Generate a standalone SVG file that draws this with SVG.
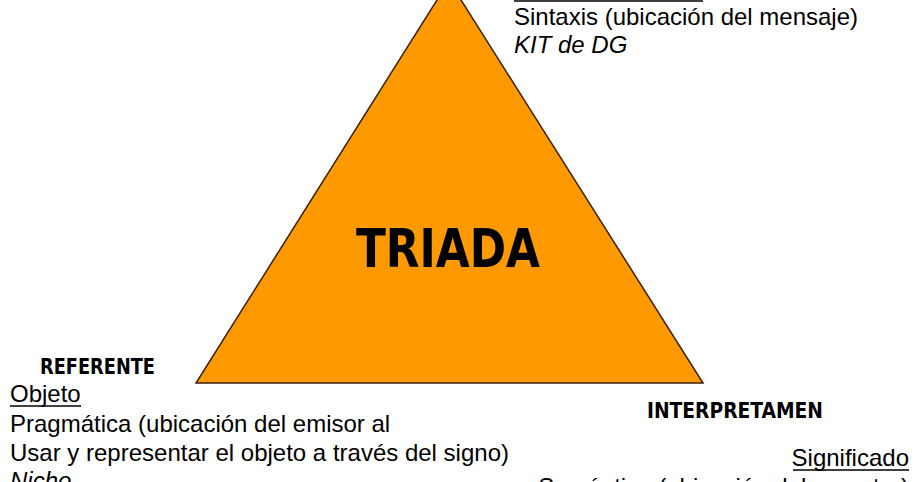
<svg xmlns="http://www.w3.org/2000/svg" width="919" height="482" viewBox="0 0 919 482">
  <style>
    .body { font-family: "Liberation Sans", Arial, sans-serif; font-size: 24px; fill: #000; }
    .it { font-style: italic; }
    .head { font-family: "DejaVu Sans Condensed", "DejaVu Sans", sans-serif; font-stretch: condensed; font-weight: bold; fill: #000; }
    .ul { stroke: #000; stroke-width: 1.5; }
  </style>
  <rect width="919" height="482" fill="#fff"/>
  <g id="triada">
    <polygon points="449,-19 196,383 703,383" fill="#ff9900" stroke="#3a2000" stroke-width="1.5" stroke-linejoin="miter"/>
    <text class="head" x="356" y="267" font-size="54" textLength="184" lengthAdjust="spacingAndGlyphs">TRIADA</text>
  </g>
  <g id="signo">
    <line class="ul" x1="514" y1="1" x2="703" y2="1"/>
    <text class="body" x="514" y="25" textLength="344" lengthAdjust="spacingAndGlyphs">Sintaxis (ubicación del mensaje)</text>
    <text class="body it" x="514" y="53">KIT de DG</text>
  </g>
  <g id="referente">
    <text class="head" x="40" y="374" font-size="22" textLength="115" lengthAdjust="spacingAndGlyphs">REFERENTE</text>
    <text class="body" x="10" y="402">Objeto</text>
    <line class="ul" x1="10" y1="406" x2="81" y2="406"/>
    <text class="body" x="10" y="432">Pragmática (ubicación del emisor al</text>
    <text class="body" x="10" y="461" textLength="499" lengthAdjust="spacingAndGlyphs">Usar y representar el objeto a través del signo)</text>
    <text class="body it" x="10" y="489">Nicho</text>
  </g>
  <g id="interpretamen">
    <text class="head" x="647" y="418" font-size="22" textLength="176" lengthAdjust="spacingAndGlyphs">INTERPRETAMEN</text>
    <text class="body" x="909" y="466" text-anchor="end">Significado</text>
    <line class="ul" x1="793" y1="470" x2="909" y2="470"/>
    <text class="body" x="909" y="495" text-anchor="end">Semántica (ubicación del receptor)</text>
  </g>
  <g id="connectors"/>
</svg>
